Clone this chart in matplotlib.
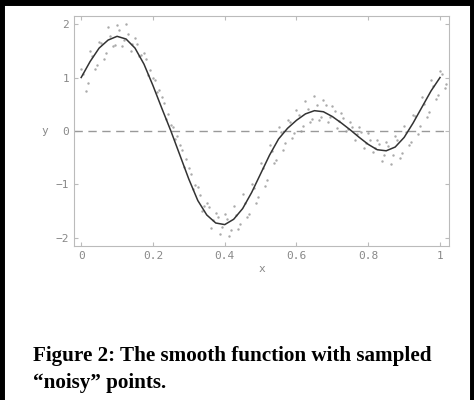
import numpy as np
import matplotlib
matplotlib.use("Agg")
import matplotlib.pyplot as plt
from matplotlib.lines import Line2D

x_vals = [0.0, 0.025, 0.05, 0.075, 0.1, 0.125, 0.15, 0.175, 0.2, 0.225, 0.25, 0.275, 0.3, 0.325,
          0.35, 0.375, 0.4, 0.425, 0.45, 0.475, 0.5, 0.525, 0.55, 0.575, 0.6, 0.625, 0.65, 0.675,
          0.7, 0.725, 0.75, 0.775, 0.8, 0.825, 0.85, 0.875, 0.9, 0.925, 0.95, 0.975, 1.0]
y_smooth = [1.0, 1.3, 1.55, 1.7, 1.77, 1.72, 1.55, 1.25, 0.85, 0.42, 0.0, -0.45, -0.9, -1.3,
            -1.57, -1.72, -1.75, -1.65, -1.45, -1.15, -0.8, -0.45, -0.15, 0.05, 0.2, 0.32, 0.38, 0.36,
            0.27, 0.15, 0.02, -0.12, -0.25, -0.35, -0.37, -0.3, -0.12, 0.15, 0.45, 0.75, 1.0]
# hand-read offsets of the sampled noisy points above / below the curve
off_upper = [0.15, 0.2, 0.12, 0.25, 0.22, 0.28, 0.18, 0.2, 0.15, 0.22, 0.12, 0.18, 0.2, 0.25,
             0.22, 0.18, 0.2, 0.24, 0.28, 0.15, 0.2, 0.18, 0.22, 0.15, 0.2, 0.24, 0.28, 0.22,
             0.2, 0.18, 0.15, 0.2, 0.22, 0.18, 0.16, 0.2, 0.22, 0.15, 0.18, 0.2, 0.12]
off_lower = [-0.25, -0.15, -0.2, -0.12, -0.18, -0.22, -0.15, -0.2, -0.12, -0.2, -0.15, -0.22, -0.18, -0.2,
             -0.25, -0.2, -0.22, -0.18, -0.15, -0.2, -0.22, -0.15, -0.2, -0.18, -0.2, -0.15, -0.18, -0.2,
             -0.22, -0.15, -0.18, -0.2, -0.15, -0.22, -0.25, -0.2, -0.15, -0.2, -0.18, -0.15, -0.2]
x_ticks = [0, 0.2, 0.4, 0.6, 0.8, 1]
x_labels = ["0", "0.2", "0.4", "0.6", "0.8", "1"]
y_ticks = [-2, -1, 0, 1, 2]

fig = plt.figure(figsize=(4.74, 4.0), dpi=100)
# black frame on top, left and right of the scanned figure
for xy in [([0, 1], [0.995, 0.995]), ([0.003, 0.003], [0, 1]), ([0.997, 0.997], [0, 1])]:
    fig.add_artist(Line2D(xy[0], xy[1], transform=fig.transFigure, color="black", lw=5))
ax = fig.add_axes([74 / 474, 1 - 246 / 400, 375 / 474, 230 / 400])

xs = np.array(x_vals)
ys = np.array(y_smooth)
dot = dict(ls="none", marker=".", ms=1.5, color="#aaaaaa")
ax.plot(xs, ys + np.array(off_upper), **dot)
ax.plot(xs + 0.0125, ys + np.array(off_lower), **dot)
ax.plot(xs + 0.006, ys + 0.5 * np.array(off_upper[::-1]), **dot)
ax.plot(xs + 0.018, ys + 0.5 * np.array(off_lower[::-1]), **dot)
ax.axhline(0, color="#999999", lw=1, ls=(0, (6, 4)))
ax.plot(xs, ys, color="#333333", lw=1.1)

ax.set_xlim(-0.02, 1.025)
ax.set_ylim(-2.15, 2.15)
ax.set_xticks(x_ticks, x_labels)
ax.set_yticks(y_ticks)
for s in ax.spines.values():
    s.set_color("#bbbbbb")
ax.tick_params(direction="in", length=3, color="#bbbbbb", labelcolor="#888888",
               labelsize=8, top=True, right=True)
for lab in ax.get_xticklabels() + ax.get_yticklabels():
    lab.set_family("DejaVu Sans Mono")
ax.set_xlabel("x", color="#888888", family="DejaVu Sans Mono", fontsize=8, labelpad=2)
ax.set_ylabel("y", color="#888888", family="DejaVu Sans Mono", fontsize=8, rotation=0, labelpad=8, va="center")

fig.text(33 / 474, 1 - 356 / 400, "Figure 2: The smooth function with sampled",
         family="Liberation Serif", weight="bold", fontsize=15.2, va="center")
fig.text(33 / 474, 1 - 383 / 400, "\u201cnoisy\u201d points.",
         family="Liberation Serif", weight="bold", fontsize=15.2, va="center")

fig.savefig("out.png", dpi=100)
